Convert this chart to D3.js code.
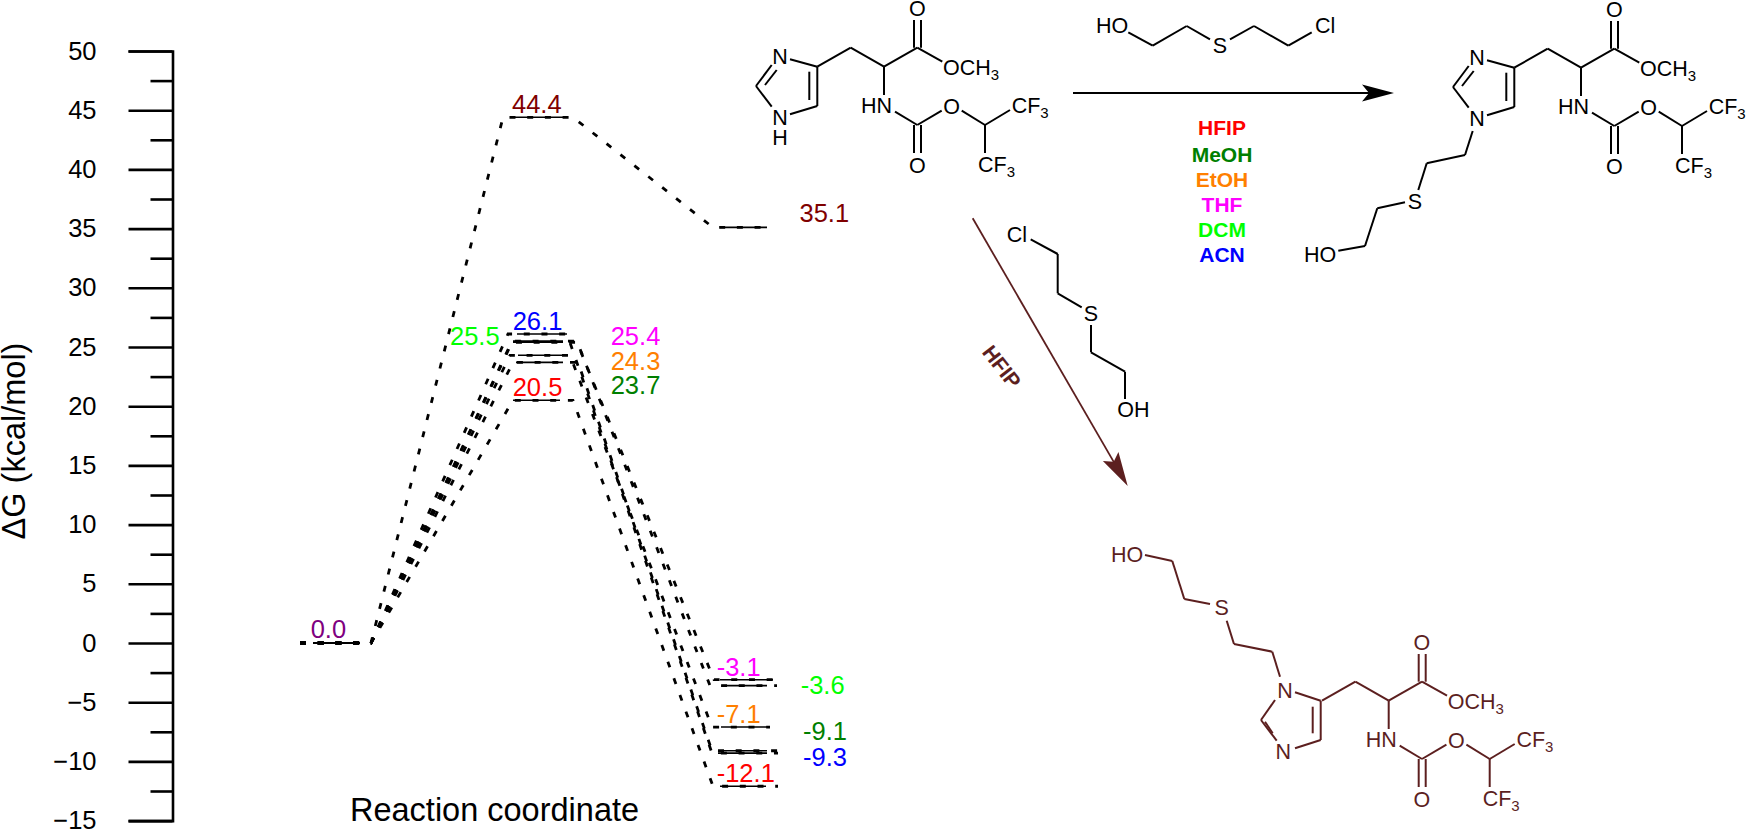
<!DOCTYPE html>
<html>
<head>
<meta charset="utf-8">
<script src="https://d3js.org/d3.v7.min.js"></script>
<style>
  body { margin: 0; background: #fff; }
  text { font-family: "Liberation Sans", Arial, sans-serif; }
</style>
</head>
<body>
<div class="chart"></div>
<script>
// Energies (kcal/mol)
const solvents = ['HFIP', 'MeOH', 'EtOH', 'THF', 'DCM', 'ACN'];
const startG = [0, 0, 0, 0, 0, 0];
const tsG = [20.5, 23.7, 24.3, 25.4, 25.5, 26.1];
const productG = [-12.1, -9.1, -7.1, -3.1, -3.6, -9.3];
const sideG = [0, 44.4, 35.1];
const majorTicks = [50, 45, 40, 35, 30, 25, 20, 15, 10, 5, 0, -5, -10, -15];
const minorTicks = [47.5, 42.5, 37.5, 32.5, 27.5, 22.5, 17.5, 12.5, 7.5, 2.5, -2.5, -7.5, -12.5];

// Reaction coordinate of each plateau: path ends, then the solid part of the level
const startRc = [0, 71];
const startSolid = [13, 60];
const tsRc = [[213, 273], [213, 278], [210, 270], [212, 277], [212, 277], [208, 267]];
const tsSolid = [[213, 260], [216, 263], [218, 268], [213, 263], [213, 263], [217, 267]];
const productRc = [[413, 478], [412, 478], [412, 470], [414, 473], [410, 477], [412, 478]];
const productSolid = [[420, 466], [418, 467], [421, 470], [420, 473], [422, 467], [418, 467]];
const sideRc = [[0, 71], [203, 273], [413, 468]];
const sideSolid = [[13, 60], [215, 263], [420, 467]];

const solventColors = ['#ff0000', '#007f00', '#ff7f00', '#ff00ff', '#00ff00', '#0000ff'];
const brown = '#5c1f1f';

const width = 1746, height = 830;
const svg = d3.select('.chart').append('svg')
    .attr('width', width)
    .attr('height', height)
    .style('display', 'block');

// Scales
const yScale = d3.scaleLinear().domain([50, -15]).range([51, 820.6]);
const xScale = d3.scaleLinear().domain([0, 478]).range([300, 778]);

// Axis
const axisMajor = d3.axisLeft(yScale)
    .tickValues(majorTicks)
    .tickFormat(d3.format('d'))
    .tickSize(44)
    .tickPadding(32);
const axisMinor = d3.axisLeft(yScale)
    .tickValues(minorTicks)
    .tickFormat('')
    .tickSize(22);

const gMajor = svg.append('g').attr('transform', 'translate(172.5,0)').call(axisMajor);
svg.append('g').attr('transform', 'translate(172.5,0)').call(axisMinor)
    .select('.domain').remove();
svg.selectAll('.tick line').attr('stroke', '#000').attr('stroke-width', 2.6);
gMajor.select('.domain').attr('stroke', '#000').attr('stroke-width', 2.6);
gMajor.selectAll('.tick text')
    .attr('font-size', 25.5)
    .attr('font-family', '"Liberation Sans", Arial, sans-serif')
    .attr('fill', '#000');

svg.append('text')
    .attr('transform', 'translate(25,441) rotate(-90)')
    .attr('text-anchor', 'middle')
    .attr('font-size', 32.5)
    .text('ΔG (kcal/mol)');

svg.append('text')
    .attr('x', 350)
    .attr('y', 821)
    .attr('font-size', 32.5)
    .text('Reaction coordinate');

// Profile paths
const pathLine = d3.line().x(d => xScale(d[0])).y(d => yScale(d[1]));

function drawPath(rcs, solids, gs) {
    const pts = [];
    rcs.forEach((rc, i) => { pts.push([rc[0], gs[i]]); pts.push([rc[1], gs[i]]); });
    svg.append('path')
        .attr('d', pathLine(pts))
        .attr('fill', 'none')
        .attr('stroke', '#000')
        .attr('stroke-width', 2.8)
        .attr('stroke-dasharray', '6 11.7');
    svg.selectAll(null)
        .data(solids.map((s, i) => [s, gs[i]]))
        .enter().append('line')
        .attr('x1', d => xScale(d[0][0]))
        .attr('x2', d => xScale(d[0][1]))
        .attr('y1', d => yScale(d[1]))
        .attr('y2', d => yScale(d[1]))
        .attr('stroke', '#000')
        .attr('stroke-width', 1.6);
}

solvents.forEach((s, i) => {
    drawPath([startRc, tsRc[i], productRc[i]],
        [startSolid, tsSolid[i], productSolid[i]],
        [startG[i], tsG[i], productG[i]]);
});
drawPath(sideRc, sideSolid, sideG);

// Value labels
const valueLabels = [
    { v: '0.0', c: '#7f007f', x: 310.7, y: 638.3 },
    { v: '44.4', c: '#7f0000', x: 512, y: 113 },
    { v: '35.1', c: '#7f0000', x: 799.5, y: 222 },
    { v: '20.5', c: solventColors[0], x: 512.7, y: 395.7 },
    { v: '23.7', c: solventColors[1], x: 610.7, y: 394 },
    { v: '24.3', c: solventColors[2], x: 610.7, y: 370 },
    { v: '25.4', c: solventColors[3], x: 610.7, y: 345 },
    { v: '25.5', c: solventColors[4], x: 450, y: 345 },
    { v: '26.1', c: solventColors[5], x: 512.7, y: 330 },
    { v: '-12.1', c: solventColors[0], x: 716.7, y: 781.7 },
    { v: '-9.1', c: solventColors[1], x: 803, y: 740 },
    { v: '-7.1', c: solventColors[2], x: 716.7, y: 723.3 },
    { v: '-3.1', c: solventColors[3], x: 716.7, y: 676 },
    { v: '-3.6', c: solventColors[4], x: 800.7, y: 694 },
    { v: '-9.3', c: solventColors[5], x: 803, y: 765.7 }
];
svg.selectAll('.value')
    .data(valueLabels)
    .enter().append('text')
    .attr('class', 'value')
    .attr('x', d => d.x)
    .attr('y', d => d.y)
    .attr('font-size', 25.5)
    .attr('fill', d => d.c)
    .text(d => d.v);

// Solvent list
const listY = [135, 162, 187.3, 212, 237.3, 262];
svg.selectAll('.solvent')
    .data(solvents)
    .enter().append('text')
    .attr('class', 'solvent')
    .attr('x', 1222)
    .attr('y', (d, i) => listY[i])
    .attr('text-anchor', 'middle')
    .attr('font-size', 21)
    .attr('font-weight', 'bold')
    .attr('fill', (d, i) => solventColors[i])
    .text(d => d);

// Arrows
function arrow(x1, y1, x2, y2, color, w, headLen, headWide, notch) {
    const a = Math.atan2(y2 - y1, x2 - x1) * 180 / Math.PI;
    const len = Math.hypot(x2 - x1, y2 - y1);
    const g = svg.append('g').attr('transform', `translate(${x1},${y1}) rotate(${a})`);
    g.append('line').attr('x2', len - headLen + notch + 1).attr('stroke', color).attr('stroke-width', w);
    g.append('path')
        .attr('d', `M${len},0L${len - headLen},${-headWide}L${len - headLen + notch},0L${len - headLen},${headWide}Z`)
        .attr('fill', color);
}
arrow(1073, 93, 1394, 93, '#000', 2.2, 32, 8.5, 7);
arrow(972.7, 218.3, 1127.7, 486, brown, 1.8, 34, 9, 6);

svg.append('text')
    .attr('transform', 'translate(1001.7,366.7) rotate(52)')
    .attr('text-anchor', 'middle')
    .attr('dy', '0.35em')
    .attr('font-size', 21)
    .attr('font-weight', 'bold')
    .attr('fill', brown)
    .text('HFIP');

// Molecule sketches, in the page coordinates of the first copy
const backbone = [
    [817.3, 66.7, 850.7, 47.7], [850.7, 47.7, 884, 66.7], [884, 66.7, 917.3, 47.7],
    [914, 47.7, 914, 20], [921, 47.7, 921, 20], [917.3, 47.7, 942.3, 61.7],
    [884, 66.7, 884, 95], [895, 111.7, 917.3, 125], [914, 125, 914, 153], [921, 125, 921, 153],
    [917.3, 125, 941.7, 110.7], [961.7, 110.7, 985, 125], [985, 125, 1010, 110], [985, 125, 985, 153]
];
const ringUp = [
    [790, 59.3, 817.3, 66.7], [817.3, 66.7, 817.3, 106], [809.3, 71.7, 809.3, 100],
    [817.3, 106, 790, 114.3], [771.7, 106.7, 756, 86], [756, 86, 771.7, 65], [765, 85, 776.7, 70]
];
const backboneText = [
    { t: 'O', x: 917.3, y: 15.7, a: 'middle' },
    { t: 'OCH', s: '3', x: 943, y: 75 },
    { t: 'HN', x: 861, y: 113 },
    { t: 'O', x: 917.3, y: 172.7, a: 'middle' },
    { t: 'O', x: 951.7, y: 113.7, a: 'middle' },
    { t: 'CF', s: '3', x: 1011.7, y: 112.7 },
    { t: 'CF', s: '3', x: 978, y: 171.7 }
];
const ringUpText = [
    { t: 'N', x: 780, y: 63.7, a: 'middle' },
    { t: 'N', x: 780, y: 124.7, a: 'middle' }
];

function drawMolecule(bonds, labels, dx, dy, color) {
    const g = svg.append('g').attr('transform', `translate(${dx},${dy})`);
    g.selectAll('line')
        .data(bonds)
        .enter().append('line')
        .attr('x1', d => d[0]).attr('y1', d => d[1])
        .attr('x2', d => d[2]).attr('y2', d => d[3])
        .attr('stroke', color)
        .attr('stroke-width', 2);
    const t = g.selectAll('text')
        .data(labels)
        .enter().append('text')
        .attr('x', d => d.x)
        .attr('y', d => d.y)
        .attr('text-anchor', d => d.a || 'start')
        .attr('font-size', 21.5)
        .attr('fill', color)
        .text(d => d.t);
    t.filter(d => d.s).append('tspan')
        .attr('dy', 5)
        .attr('font-size', 15)
        .text(d => d.s);
}

// starting material
drawMolecule(backbone.concat(ringUp), backboneText.concat(ringUpText, [{ t: 'H', x: 780, y: 144.7, a: 'middle' }]), 0, 0, '#000');

// N-alkylated product, top right
drawMolecule(backbone.concat(ringUp), backboneText.concat(ringUpText), 697, 1, '#000');
drawMolecule([
    [1472.7, 131, 1465, 155], [1465, 155, 1426.7, 163.3], [1426.7, 163.3, 1418.3, 190],
    [1405, 202.3, 1377.3, 208.3], [1377.3, 208.3, 1365, 246], [1365, 246, 1338.3, 250.7]
], [
    { t: 'S', x: 1415, y: 208.7, a: 'middle' },
    { t: 'HO', x: 1304, y: 261.7 }
], 0, 0, '#000');

// regioisomer, bottom
drawMolecule(backbone, backboneText, 504.7, 634, brown);
drawMolecule([
    [1295, 692.3, 1320.7, 700.7], [1320.7, 700.7, 1320.7, 740], [1312.7, 706.7, 1312.7, 733.3],
    [1320.7, 740, 1295, 748.3], [1276.7, 740.7, 1261, 720], [1261, 720, 1275, 700],
    [1272.7, 733.3, 1265, 721.7],
    [1280, 676.7, 1272.3, 651.7], [1272.3, 651.7, 1234, 644], [1234, 644, 1226.7, 620.7],
    [1210, 604, 1184.3, 599], [1184.3, 599, 1172.3, 561], [1172.3, 561, 1145, 555]
], [
    { t: 'N', x: 1285, y: 697.7, a: 'middle' },
    { t: 'N', x: 1283.3, y: 759.4, a: 'middle' },
    { t: 'S', x: 1221.7, y: 615.4, a: 'middle' },
    { t: 'HO', x: 1111, y: 561.7 }
], 0, 0, brown);

// reagent, above the arrow
drawMolecule([
    [1128.3, 32.3, 1152.7, 45.7], [1152.7, 45.7, 1186.7, 26], [1186.7, 26, 1210, 39.3],
    [1230, 39.3, 1254, 26], [1254, 26, 1288.3, 45.7], [1288.3, 45.7, 1311.7, 32.3]
], [
    { t: 'HO', x: 1096, y: 33.3 },
    { t: 'S', x: 1220, y: 52.7, a: 'middle' },
    { t: 'Cl', x: 1315, y: 33 }
], 0, 0, '#000');

// reagent, next to the lower arrow
drawMolecule([
    [1030.7, 239.3, 1057.7, 254], [1057.7, 254, 1057.7, 293.3], [1057.7, 293.3, 1081.7, 307.3],
    [1091, 325, 1091, 352.3], [1091, 352.3, 1125, 371.7], [1125, 371.7, 1125, 399]
], [
    { t: 'Cl', x: 1006.7, y: 242.3 },
    { t: 'S', x: 1091, y: 320.7, a: 'middle' },
    { t: 'OH', x: 1117.3, y: 417.3 }
], 0, 0, '#000');
</script>
</body>
</html>
